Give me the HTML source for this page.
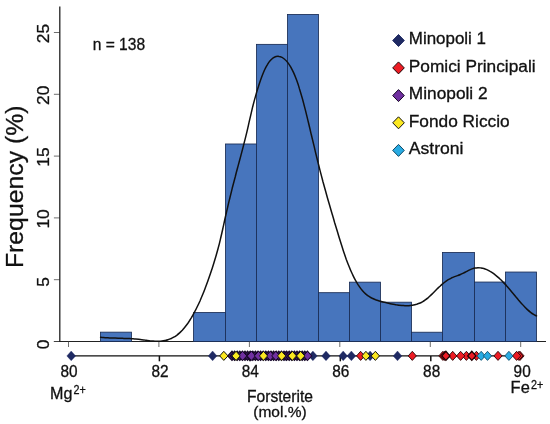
<!DOCTYPE html>
<html><head><meta charset="utf-8"><title>Forsterite histogram</title>
<style>
html,body{margin:0;padding:0;background:#fff}
svg{display:block}
text{font-family:"Liberation Sans",sans-serif;fill:#111;stroke:#111;stroke-width:0.3}
</style></head><body>
<svg width="550" height="424" viewBox="0 0 550 424">
<rect width="550" height="424" fill="#fff"/>
<line x1="53.9" y1="341.5" x2="546" y2="341.5" stroke="#222" stroke-width="1.1"/>
<g fill="#4775bd" stroke="#1a2d55" stroke-width="0.85"><rect x="100.50" y="332.16" width="31.00" height="9.34"/><rect x="193.50" y="312.58" width="32.00" height="28.92"/><rect x="225.50" y="143.99" width="31.00" height="197.51"/><rect x="256.50" y="44.37" width="31.00" height="297.13"/><rect x="287.50" y="14.45" width="31.00" height="327.05"/><rect x="318.50" y="292.68" width="31.00" height="48.82"/><rect x="349.50" y="282.17" width="31.00" height="59.33"/><rect x="380.50" y="302.20" width="31.00" height="39.30"/><rect x="411.50" y="332.23" width="31.00" height="9.27"/><rect x="442.50" y="252.51" width="32.00" height="88.99"/><rect x="474.50" y="282.05" width="31.00" height="59.45"/><rect x="505.50" y="272.04" width="31.00" height="69.46"/></g>
<g stroke="#4a4a4a" stroke-width="0.8" fill="none"><line x1="68.5" y1="341.5" x2="68.5" y2="347"/><line x1="158.9" y1="341.5" x2="158.9" y2="347"/><line x1="249.4" y1="341.5" x2="249.4" y2="347"/><line x1="339.8" y1="341.5" x2="339.8" y2="347"/><line x1="430.3" y1="341.5" x2="430.3" y2="347"/><line x1="520.7" y1="341.5" x2="520.7" y2="347"/><line x1="53.9" y1="341.5" x2="59.8" y2="341.5"/><line x1="53.9" y1="279.7" x2="59.8" y2="279.7"/><line x1="53.9" y1="217.9" x2="59.8" y2="217.9"/><line x1="53.9" y1="156.1" x2="59.8" y2="156.1"/><line x1="53.9" y1="94.3" x2="59.8" y2="94.3"/><line x1="53.9" y1="32.5" x2="59.8" y2="32.5"/></g>
<line x1="59.8" y1="6.5" x2="59.8" y2="342.0" stroke="#222" stroke-width="1.3"/>
<path d="M100.6,337.2C101.1,337.3 102.6,337.4 103.5,337.5C104.5,337.6 105.5,337.7 106.5,337.7C107.4,337.8 108.4,337.8 109.4,337.9C110.4,337.9 111.3,338.0 112.3,338.0C113.3,338.1 114.3,338.1 115.2,338.1C116.2,338.2 117.2,338.2 118.2,338.2C119.1,338.2 120.1,338.3 121.1,338.3C122.1,338.3 123.0,338.4 124.0,338.4C125.0,338.4 126.0,338.5 126.9,338.5C127.9,338.5 128.9,338.6 129.9,338.6C130.8,338.7 131.8,338.7 132.8,338.8C133.8,338.9 134.7,339.0 135.7,339.0C136.7,339.1 137.7,339.2 138.6,339.3C139.6,339.4 140.6,339.5 141.6,339.7C142.5,339.8 143.5,339.9 144.5,340.1C145.5,340.2 146.4,340.4 147.4,340.5C148.4,340.6 149.4,340.7 150.3,340.9C151.3,341.0 152.3,341.1 153.3,341.1C154.2,341.2 155.2,341.3 156.2,341.3C157.2,341.3 158.1,341.3 159.1,341.3C160.1,341.3 161.1,341.2 162.0,341.1C163.0,341.0 164.0,340.8 165.0,340.6C165.9,340.4 166.9,340.2 167.9,339.8C168.9,339.5 169.8,339.2 170.8,338.7C171.8,338.3 172.8,337.8 173.7,337.2C174.7,336.7 175.7,336.0 176.7,335.3C177.6,334.6 178.6,333.8 179.6,332.9C180.6,332.0 181.5,331.0 182.5,330.0C183.5,328.9 184.5,327.7 185.4,326.5C186.4,325.2 187.4,323.9 188.4,322.5C189.3,321.0 190.3,319.5 191.3,317.9C192.3,316.2 193.2,314.5 194.2,312.7C195.2,310.9 196.2,309.0 197.1,307.0C198.1,305.0 199.1,302.9 200.1,300.7C201.0,298.5 202.0,296.2 203.0,293.8C204.0,291.4 204.9,288.9 205.9,286.3C206.9,283.7 207.9,281.0 208.8,278.3C209.8,275.5 210.8,272.6 211.8,269.6C212.7,266.6 213.7,263.6 214.7,260.3C215.7,257.1 216.6,253.9 217.6,250.3C218.6,246.7 219.6,242.9 220.5,238.8C221.5,234.7 222.5,230.1 223.5,225.7C224.4,221.4 225.4,216.8 226.4,212.5C227.4,208.3 228.3,204.2 229.3,200.1C230.3,196.1 231.3,192.2 232.2,188.3C233.2,184.5 234.2,180.7 235.2,177.0C236.1,173.2 237.1,169.6 238.1,165.9C239.1,162.3 240.0,158.7 241.0,155.1C242.0,151.4 243.0,147.8 243.9,143.9C244.9,140.1 245.9,136.1 246.9,131.9C247.9,127.8 248.8,123.4 249.8,119.2C250.8,115.0 251.8,110.6 252.7,106.7C253.7,102.8 254.7,99.1 255.7,95.6C256.6,92.1 257.6,88.9 258.6,85.9C259.6,82.8 260.5,80.0 261.5,77.4C262.5,74.7 263.5,72.3 264.4,70.2C265.4,68.1 266.4,66.2 267.4,64.6C268.3,63.0 269.3,61.6 270.3,60.5C271.3,59.4 272.2,58.5 273.2,57.8C274.2,57.2 275.2,56.7 276.1,56.5C277.1,56.3 278.1,56.2 279.1,56.4C280.0,56.5 281.0,56.9 282.0,57.4C283.0,57.9 283.9,58.6 284.9,59.5C285.9,60.3 286.9,61.4 287.8,62.6C288.8,63.9 289.8,65.4 290.8,67.1C291.7,68.8 292.7,70.7 293.7,72.9C294.7,75.0 295.6,77.4 296.6,80.1C297.6,82.8 298.6,85.7 299.5,88.9C300.5,92.0 301.5,95.5 302.5,99.0C303.4,102.5 304.4,106.3 305.4,110.1C306.4,114.0 307.3,118.0 308.3,122.0C309.3,126.0 310.3,130.2 311.2,134.3C312.2,138.4 313.2,142.5 314.2,146.6C315.1,150.7 316.1,154.8 317.1,158.8C318.1,162.7 319.0,166.6 320.0,170.4C321.0,174.2 322.0,177.9 322.9,181.5C323.9,185.1 324.9,188.7 325.9,192.2C326.8,195.6 327.8,199.1 328.8,202.5C329.8,205.8 330.7,209.2 331.7,212.5C332.7,215.9 333.7,219.2 334.6,222.5C335.6,225.8 336.6,229.1 337.6,232.3C338.5,235.5 339.5,238.7 340.5,241.8C341.5,244.9 342.4,248.0 343.4,250.9C344.4,253.8 345.4,256.7 346.3,259.4C347.3,262.0 348.3,264.6 349.3,267.0C350.2,269.5 351.2,271.7 352.2,273.8C353.2,275.9 354.1,277.9 355.1,279.7C356.1,281.5 357.1,283.2 358.0,284.7C359.0,286.2 360.0,287.6 361.0,288.9C361.9,290.1 362.9,291.2 363.9,292.2C364.9,293.2 365.8,294.1 366.8,294.9C367.8,295.7 368.8,296.3 369.7,296.9C370.7,297.6 371.7,298.1 372.7,298.5C373.6,299.0 374.6,299.4 375.6,299.8C376.6,300.1 377.5,300.4 378.5,300.7C379.5,301.0 380.5,301.3 381.4,301.5C382.4,301.8 383.4,302.1 384.4,302.3C385.3,302.6 386.3,302.8 387.3,303.0C388.3,303.3 389.2,303.5 390.2,303.7C391.2,303.9 392.2,304.1 393.2,304.3C394.1,304.5 395.1,304.6 396.1,304.8C397.1,304.9 398.0,305.1 399.0,305.2C400.0,305.3 401.0,305.4 401.9,305.5C402.9,305.6 403.9,305.6 404.9,305.7C405.8,305.7 406.8,305.7 407.8,305.7C408.8,305.7 409.7,305.6 410.7,305.5C411.7,305.4 412.7,305.3 413.6,305.1C414.6,304.9 415.6,304.6 416.6,304.3C417.5,304.0 418.5,303.7 419.5,303.3C420.5,302.9 421.4,302.4 422.4,301.8C423.4,301.3 424.4,300.6 425.3,299.9C426.3,299.2 427.3,298.4 428.3,297.6C429.2,296.8 430.2,295.8 431.2,294.9C432.2,294.0 433.1,293.0 434.1,292.0C435.1,291.0 436.1,290.0 437.0,289.0C438.0,288.1 439.0,287.1 440.0,286.2C440.9,285.3 441.9,284.4 442.9,283.6C443.9,282.7 444.8,282.0 445.8,281.3C446.8,280.6 447.8,279.9 448.7,279.4C449.7,278.8 450.7,278.3 451.7,277.8C452.6,277.4 453.6,277.0 454.6,276.6C455.6,276.3 456.5,276.0 457.5,275.6C458.5,275.3 459.5,274.9 460.4,274.5C461.4,274.1 462.4,273.6 463.4,273.1C464.3,272.7 465.3,272.1 466.3,271.6C467.3,271.1 468.2,270.6 469.2,270.1C470.2,269.7 471.2,269.2 472.1,268.9C473.1,268.6 474.1,268.3 475.1,268.1C476.0,267.9 477.0,267.8 478.0,267.7C479.0,267.7 479.9,267.8 480.9,267.9C481.9,268.1 482.9,268.3 483.8,268.5C484.8,268.8 485.8,269.2 486.8,269.6C487.7,270.0 488.7,270.5 489.7,271.1C490.7,271.6 491.6,272.2 492.6,272.9C493.6,273.6 494.6,274.3 495.5,275.1C496.5,275.9 497.5,276.7 498.5,277.6C499.4,278.4 500.4,279.4 501.4,280.3C502.4,281.3 503.3,282.3 504.3,283.4C505.3,284.4 506.3,285.5 507.2,286.6C508.2,287.7 509.2,288.9 510.2,290.0C511.1,291.2 512.1,292.4 513.1,293.5C514.1,294.7 515.0,295.9 516.0,297.1C517.0,298.2 518.0,299.4 518.9,300.6C519.9,301.7 520.9,302.8 521.9,303.9C522.8,305.0 523.8,306.0 524.8,307.0C525.8,308.0 526.7,309.0 527.7,309.9C528.7,310.8 529.7,311.6 530.6,312.3C531.6,313.1 532.6,313.8 533.6,314.4C534.5,315.0 536.0,315.6 536.5,315.9" fill="none" stroke="#111" stroke-width="1.5" stroke-linejoin="round" stroke-linecap="round"/>
<g stroke="#111" stroke-width="1.5"><line x1="159.4" y1="355.9" x2="159.4" y2="361.3"/><line x1="249.9" y1="355.9" x2="249.9" y2="361.3"/><line x1="340.3" y1="355.9" x2="340.3" y2="361.3"/><line x1="430.8" y1="355.9" x2="430.8" y2="361.3"/><line x1="71" y1="355.9" x2="521" y2="355.9" stroke-width="1.35"/></g>
<path d="M66.8,355.9L71.2,351.0L75.7,355.9L71.2,360.8Z" fill="#1f2a63" stroke="#1f2a63" stroke-width="0.3"/><path d="M208.2,355.9L212.6,351.0L217.0,355.9L212.6,360.8Z" fill="#1f2a63" stroke="#1f2a63" stroke-width="0.3"/><path d="M266.6,355.9L271.0,351.0L275.4,355.9L271.0,360.8Z" fill="#1f2a63" stroke="#1f2a63" stroke-width="0.3"/><path d="M281.6,355.9L286.0,351.0L290.4,355.9L286.0,360.8Z" fill="#1f2a63" stroke="#1f2a63" stroke-width="0.3"/><path d="M308.4,355.9L312.9,351.0L317.3,355.9L312.9,360.8Z" fill="#1f2a63" stroke="#1f2a63" stroke-width="0.3"/><path d="M321.6,355.9L326.0,351.0L330.4,355.9L326.0,360.8Z" fill="#1f2a63" stroke="#1f2a63" stroke-width="0.3"/><path d="M338.8,355.9L343.2,351.0L347.6,355.9L343.2,360.8Z" fill="#1f2a63" stroke="#1f2a63" stroke-width="0.3"/><path d="M346.9,355.9L351.4,351.0L355.8,355.9L351.4,360.8Z" fill="#1f2a63" stroke="#1f2a63" stroke-width="0.3"/><path d="M365.7,355.9L370.1,351.0L374.6,355.9L370.1,360.8Z" fill="#1f2a63" stroke="#1f2a63" stroke-width="0.3"/><path d="M393.1,355.9L397.5,351.0L401.9,355.9L397.5,360.8Z" fill="#1f2a63" stroke="#1f2a63" stroke-width="0.3"/><path d="M227.8,355.9L232.0,351.3L236.2,355.9L232.0,360.4Z" fill="#4a1d78" stroke="#160826" stroke-width="1.3"/><path d="M230.4,355.9L234.6,351.3L238.8,355.9L234.6,360.4Z" fill="#4a1d78" stroke="#160826" stroke-width="1.3"/><path d="M233.0,355.9L237.2,351.3L241.3,355.9L237.2,360.4Z" fill="#4a1d78" stroke="#160826" stroke-width="1.3"/><path d="M235.6,355.9L239.8,351.3L243.9,355.9L239.8,360.4Z" fill="#4a1d78" stroke="#160826" stroke-width="1.3"/><path d="M238.2,355.9L242.4,351.3L246.5,355.9L242.4,360.4Z" fill="#4a1d78" stroke="#160826" stroke-width="1.3"/><path d="M240.8,355.9L245.0,351.3L249.1,355.9L245.0,360.4Z" fill="#4a1d78" stroke="#160826" stroke-width="1.3"/><path d="M243.4,355.9L247.6,351.3L251.7,355.9L247.6,360.4Z" fill="#4a1d78" stroke="#160826" stroke-width="1.3"/><path d="M246.0,355.9L250.2,351.3L254.3,355.9L250.2,360.4Z" fill="#4a1d78" stroke="#160826" stroke-width="1.3"/><path d="M248.6,355.9L252.8,351.3L256.9,355.9L252.8,360.4Z" fill="#4a1d78" stroke="#160826" stroke-width="1.3"/><path d="M251.2,355.9L255.4,351.3L259.5,355.9L255.4,360.4Z" fill="#4a1d78" stroke="#160826" stroke-width="1.3"/><path d="M253.8,355.9L258.0,351.3L262.1,355.9L258.0,360.4Z" fill="#4a1d78" stroke="#160826" stroke-width="1.3"/><path d="M256.4,355.9L260.6,351.3L264.7,355.9L260.6,360.4Z" fill="#4a1d78" stroke="#160826" stroke-width="1.3"/><path d="M259.0,355.9L263.2,351.3L267.3,355.9L263.2,360.4Z" fill="#4a1d78" stroke="#160826" stroke-width="1.3"/><path d="M261.6,355.9L265.8,351.3L269.9,355.9L265.8,360.4Z" fill="#4a1d78" stroke="#160826" stroke-width="1.3"/><path d="M264.2,355.9L268.4,351.3L272.5,355.9L268.4,360.4Z" fill="#4a1d78" stroke="#160826" stroke-width="1.3"/><path d="M266.8,355.9L271.0,351.3L275.1,355.9L271.0,360.4Z" fill="#4a1d78" stroke="#160826" stroke-width="1.3"/><path d="M269.4,355.9L273.6,351.3L277.7,355.9L273.6,360.4Z" fill="#4a1d78" stroke="#160826" stroke-width="1.3"/><path d="M272.0,355.9L276.2,351.3L280.3,355.9L276.2,360.4Z" fill="#4a1d78" stroke="#160826" stroke-width="1.3"/><path d="M274.6,355.9L278.8,351.3L282.9,355.9L278.8,360.4Z" fill="#4a1d78" stroke="#160826" stroke-width="1.3"/><path d="M277.2,355.9L281.4,351.3L285.5,355.9L281.4,360.4Z" fill="#4a1d78" stroke="#160826" stroke-width="1.3"/><path d="M279.8,355.9L284.0,351.3L288.1,355.9L284.0,360.4Z" fill="#4a1d78" stroke="#160826" stroke-width="1.3"/><path d="M282.4,355.9L286.6,351.3L290.7,355.9L286.6,360.4Z" fill="#4a1d78" stroke="#160826" stroke-width="1.3"/><path d="M285.0,355.9L289.2,351.3L293.3,355.9L289.2,360.4Z" fill="#4a1d78" stroke="#160826" stroke-width="1.3"/><path d="M287.6,355.9L291.8,351.3L295.9,355.9L291.8,360.4Z" fill="#4a1d78" stroke="#160826" stroke-width="1.3"/><path d="M290.2,355.9L294.4,351.3L298.5,355.9L294.4,360.4Z" fill="#4a1d78" stroke="#160826" stroke-width="1.3"/><path d="M292.8,355.9L297.0,351.3L301.1,355.9L297.0,360.4Z" fill="#4a1d78" stroke="#160826" stroke-width="1.3"/><path d="M295.4,355.9L299.6,351.3L303.7,355.9L299.6,360.4Z" fill="#4a1d78" stroke="#160826" stroke-width="1.3"/><path d="M298.0,355.9L302.2,351.3L306.3,355.9L302.2,360.4Z" fill="#4a1d78" stroke="#160826" stroke-width="1.3"/><path d="M300.6,355.9L304.8,351.3L308.9,355.9L304.8,360.4Z" fill="#4a1d78" stroke="#160826" stroke-width="1.3"/><path d="M303.2,355.9L307.4,351.3L311.5,355.9L307.4,360.4Z" fill="#4a1d78" stroke="#160826" stroke-width="1.3"/><path d="M238.4,355.9L242.6,351.3L246.8,355.9L242.6,360.4Z" fill="#7030a0" stroke="#160826" stroke-width="1.0"/><path d="M247.2,355.9L251.4,351.3L255.6,355.9L251.4,360.4Z" fill="#7030a0" stroke="#160826" stroke-width="1.0"/><path d="M254.3,355.9L258.5,351.3L262.6,355.9L258.5,360.4Z" fill="#7030a0" stroke="#160826" stroke-width="1.0"/><path d="M266.2,355.9L270.3,351.3L274.4,355.9L270.3,360.4Z" fill="#7030a0" stroke="#160826" stroke-width="1.0"/><path d="M271.7,355.9L275.8,351.3L279.9,355.9L275.8,360.4Z" fill="#7030a0" stroke="#160826" stroke-width="1.0"/><path d="M303.4,355.9L307.5,351.3L311.6,355.9L307.5,360.4Z" fill="#7030a0" stroke="#160826" stroke-width="1.0"/><path d="M356.5,355.9L360.6,351.3L364.8,355.9L360.6,360.4Z" fill="#ed1c24" stroke="#1a0203" stroke-width="0.85"/><path d="M408.2,355.9L412.3,351.3L416.4,355.9L412.3,360.4Z" fill="#ed1c24" stroke="#1a0203" stroke-width="0.85"/><path d="M438.8,355.9L442.9,351.3L447.0,355.9L442.9,360.4Z" fill="#ed1c24" stroke="#1a0203" stroke-width="0.85"/><path d="M440.2,355.9L444.4,351.3L448.5,355.9L444.4,360.4Z" fill="#ed1c24" stroke="#1a0203" stroke-width="0.85"/><path d="M448.6,355.9L452.7,351.3L456.8,355.9L452.7,360.4Z" fill="#ed1c24" stroke="#1a0203" stroke-width="0.85"/><path d="M462.2,355.9L466.4,351.3L470.5,355.9L466.4,360.4Z" fill="#ed1c24" stroke="#1a0203" stroke-width="0.85"/><path d="M456.5,355.9L460.6,351.3L464.8,355.9L460.6,360.4Z" fill="#ed1c24" stroke="#1a0203" stroke-width="0.85"/><path d="M472.2,355.9L476.4,351.3L480.5,355.9L476.4,360.4Z" fill="#ed1c24" stroke="#1a0203" stroke-width="0.85"/><path d="M493.9,355.9L498.0,351.3L502.1,355.9L498.0,360.4Z" fill="#ed1c24" stroke="#1a0203" stroke-width="0.85"/><path d="M515.9,355.9L520.0,351.3L524.1,355.9L520.0,360.4Z" fill="#ed1c24" stroke="#1a0203" stroke-width="0.85"/><path d="M514.8,355.9L518.9,351.3L523.0,355.9L518.9,360.4Z" fill="#ed1c24" stroke="#1a0203" stroke-width="0.85"/><path d="M512.5,355.9L516.6,351.3L520.8,355.9L516.6,360.4Z" fill="#ed1c24" stroke="#1a0203" stroke-width="0.85"/><path d="M441.8,355.9L445.9,351.3L450.0,355.9L445.9,360.4Z" fill="#ed1c25" stroke="#1a0203" stroke-width="1.3"/><path d="M467.7,355.9L471.8,351.3L475.9,355.9L471.8,360.4Z" fill="#ed1c25" stroke="#1a0203" stroke-width="1.3"/><path d="M361.8,355.9L365.9,351.3L370.0,355.9L365.9,360.4Z" fill="#fbe821" stroke="#111" stroke-width="1.0"/><path d="M371.2,355.9L375.4,351.3L379.5,355.9L375.4,360.4Z" fill="#fbe821" stroke="#111" stroke-width="1.0"/><path d="M219.7,355.9L223.8,351.3L228.0,355.9L223.8,360.4Z" fill="#fbe821" stroke="#111" stroke-width="1.0"/><path d="M231.9,355.9L236.1,351.3L240.2,355.9L236.1,360.4Z" fill="#fbe821" stroke="#111" stroke-width="1.0"/><path d="M259.4,355.9L263.5,351.3L267.6,355.9L263.5,360.4Z" fill="#fbe821" stroke="#111" stroke-width="1.0"/><path d="M277.5,355.9L281.6,351.3L285.8,355.9L281.6,360.4Z" fill="#fbe821" stroke="#111" stroke-width="1.0"/><path d="M288.2,355.9L292.4,351.3L296.5,355.9L292.4,360.4Z" fill="#fbe821" stroke="#111" stroke-width="1.0"/><path d="M296.5,355.9L300.6,351.3L304.8,355.9L300.6,360.4Z" fill="#fbe821" stroke="#111" stroke-width="1.0"/><path d="M477.1,355.9L481.2,351.3L485.3,355.9L481.2,360.4Z" fill="#29abe2" stroke="#124a66" stroke-width="0.85"/><path d="M483.4,355.9L487.5,351.3L491.6,355.9L487.5,360.4Z" fill="#29abe2" stroke="#124a66" stroke-width="0.85"/><path d="M504.8,355.9L508.9,351.3L513.0,355.9L508.9,360.4Z" fill="#29abe2" stroke="#124a66" stroke-width="0.85"/>
<text transform="translate(49.0,344.3) rotate(-90)" text-anchor="middle" font-size="17.4">0</text><text transform="translate(49.0,281.8) rotate(-90)" text-anchor="middle" font-size="17.4">5</text><text transform="translate(49.0,218.9) rotate(-90)" text-anchor="middle" font-size="17.4">10</text><text transform="translate(49.0,157.0) rotate(-90)" text-anchor="middle" font-size="17.4">15</text><text transform="translate(49.0,95.3) rotate(-90)" text-anchor="middle" font-size="17.4">20</text><text transform="translate(49.0,33.5) rotate(-90)" text-anchor="middle" font-size="17.4">25</text><text x="60.4" y="376.6" font-size="15.8" textLength="17.1" lengthAdjust="spacingAndGlyphs">80</text><text x="151.4" y="376.6" font-size="15.8" textLength="17.1" lengthAdjust="spacingAndGlyphs">82</text><text x="241.7" y="376.6" font-size="15.8" textLength="17.1" lengthAdjust="spacingAndGlyphs">84</text><text x="332.2" y="376.6" font-size="15.8" textLength="17.1" lengthAdjust="spacingAndGlyphs">86</text><text x="423.1" y="376.6" font-size="15.8" textLength="17.1" lengthAdjust="spacingAndGlyphs">88</text><text x="513.6" y="376.6" font-size="15.8" textLength="17.1" lengthAdjust="spacingAndGlyphs">90</text>
<text transform="translate(23.2,268.1) rotate(-90)" font-size="24.8">Frequency (%)</text>
<text x="92.7" y="50" font-size="15.7" textLength="52.4" lengthAdjust="spacingAndGlyphs">n = 138</text>
<path d="M392.7,40.5L398.5,34.5L404.3,40.5L398.5,46.5Z" fill="#1f2a63" stroke="#1f2a63" stroke-width="1.0"/><text x="408.8" y="44.3" font-size="16.0" textLength="77.2" lengthAdjust="spacingAndGlyphs">Minopoli 1</text><path d="M392.7,67.9L398.5,61.9L404.3,67.9L398.5,73.9Z" fill="#ed1c24" stroke="#1a0203" stroke-width="1.0"/><text x="408.8" y="71.6" font-size="16.0" textLength="126.8" lengthAdjust="spacingAndGlyphs">Pomici Principali</text><path d="M392.7,95.6L398.5,89.6L404.3,95.6L398.5,101.6Z" fill="#7030a0" stroke="#160826" stroke-width="1.0"/><text x="408.8" y="99.4" font-size="16.0" textLength="78.8" lengthAdjust="spacingAndGlyphs">Minopoli 2</text><path d="M392.7,122.8L398.5,116.8L404.3,122.8L398.5,128.8Z" fill="#fbe821" stroke="#111" stroke-width="1.0"/><text x="408.8" y="126.6" font-size="16.0" textLength="100.8" lengthAdjust="spacingAndGlyphs">Fondo Riccio</text><path d="M392.7,150.4L398.5,144.4L404.3,150.4L398.5,156.4Z" fill="#29abe2" stroke="#124a66" stroke-width="1.0"/><text x="408.8" y="153.8" font-size="16.0" textLength="54.599999999999994" lengthAdjust="spacingAndGlyphs">Astroni</text>
<text x="280" y="401.9" text-anchor="middle" font-size="15.6">Forsterite</text>
<text x="280" y="416.5" text-anchor="middle" font-size="15.5">(mol.%)</text>
<text x="50.1" y="398.6" font-size="16.9" textLength="22.4" lengthAdjust="spacingAndGlyphs">Mg</text><text x="73.4" y="393.8" font-size="12.2" textLength="12.3" lengthAdjust="spacingAndGlyphs">2+</text>
<text x="510.6" y="392.8" font-size="16.6" textLength="19.2" lengthAdjust="spacingAndGlyphs">Fe</text><text x="531.0" y="389.2" font-size="12.2" textLength="12.3" lengthAdjust="spacingAndGlyphs">2+</text>
</svg>
</body></html>
